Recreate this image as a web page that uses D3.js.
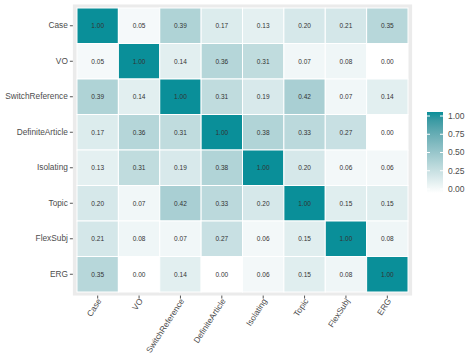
<!DOCTYPE html>
<meta charset="utf-8">
<script src="https://d3js.org/d3.v7.min.js"></script>
<style>
  body { margin: 0; background: #fff; }
  text { font-family: "Liberation Sans", Arial, sans-serif; }
</style>
<div id="heatmap_area"></div>
<script>

    // feature names (same order on both axes)
    let features = ["Case", "VO", "SwitchReference", "DefiniteArticle", "Isolating", "Topic", "FlexSubj", "ERG"];

    // correlation rows, one per feature
    let caseRow      = [1.00, 0.05, 0.39, 0.17, 0.13, 0.20, 0.21, 0.35];
    let voRow        = [0.05, 1.00, 0.14, 0.36, 0.31, 0.07, 0.08, 0.00];
    let switchRow    = [0.39, 0.14, 1.00, 0.31, 0.19, 0.42, 0.07, 0.14];
    let definiteRow  = [0.17, 0.36, 0.31, 1.00, 0.38, 0.33, 0.27, 0.00];
    let isolatingRow = [0.13, 0.31, 0.19, 0.38, 1.00, 0.20, 0.06, 0.06];
    let topicRow     = [0.20, 0.07, 0.42, 0.33, 0.20, 1.00, 0.15, 0.15];
    let flexRow      = [0.21, 0.08, 0.07, 0.27, 0.06, 0.15, 1.00, 0.08];
    let ergRow       = [0.35, 0.00, 0.14, 0.00, 0.06, 0.15, 0.08, 1.00];

    let legendTicks = [0, 0.25, 0.5, 0.75, 1];

    let rows = [caseRow, voRow, switchRow, definiteRow, isolatingRow, topicRow, flexRow, ergRow];

    // flatten into cells
    let cells = [];
    rows.forEach((r, i) => r.forEach((v, j) => cells.push({row: features[i], col: features[j], value: v})));

    let width = 474, height = 364;

    let svg = d3.select("#heatmap_area")
                .append("svg")
                    .attr("width", width)
                    .attr("height", height);

    svg.append("rect").attr("width", width).attr("height", height).attr("fill", "white");

    let x = d3.scaleBand().domain(features).range([77, 408]);
    let y = d3.scaleBand().domain(features).range([8, 292]);

    let color = d3.scaleLinear()
                  .domain([0, 1])
                  .range(["#ffffff", "#0a8f99"])
                  .interpolate(d3.interpolateLab);

    // grey panel, a little wider than the tiles (ggplot expand)
    let ex = x.bandwidth() * 0.1, ey = y.bandwidth() * 0.1;
    svg.append("rect")
        .attr("x", x.range()[0] - ex)
        .attr("y", y.range()[0] - ey)
        .attr("width", x.range()[1] - x.range()[0] + 2 * ex)
        .attr("height", y.range()[1] - y.range()[0] + 2 * ey)
        .attr("fill", "#ebebeb");

    // tiles
    svg.selectAll("rect.tile")
        .data(cells)
        .enter()
        .append("rect")
            .attr("class", "tile")
            .attr("x", d => x(d.col))
            .attr("y", d => y(d.row))
            .attr("width", x.bandwidth())
            .attr("height", y.bandwidth())
            .attr("fill", d => color(d.value))
            .attr("stroke", "white")
            .style("stroke-width", "1px");

    // numbers on the tiles
    svg.selectAll("text.val")
        .data(cells)
        .enter()
        .append("text")
            .attr("class", "val")
            .attr("x", d => x(d.col) + x.bandwidth() / 2)
            .attr("y", d => y(d.row) + y.bandwidth() / 2)
            .attr("dy", "0.35em")
            .attr("text-anchor", "middle")
            .style("font-size", "6.5px")
            .attr("fill", "#333")
            .text(d => d.value.toFixed(2));

    // y axis
    let yAxis = svg.append("g")
        .attr("transform", "translate(" + (x.range()[0] - ex) + ",0)")
        .call(d3.axisLeft(y).tickSize(3).tickPadding(2));
    yAxis.select(".domain").remove();
    yAxis.selectAll("line").attr("stroke", "#555");
    yAxis.selectAll("text").style("font-size", "8.3px").attr("fill", "#4d4d4d");

    // x axis with slanted labels
    let xAxis = svg.append("g")
        .attr("transform", "translate(0," + (y.range()[1] + ey) + ")")
        .call(d3.axisBottom(x).tickSize(3).tickPadding(2));
    xAxis.select(".domain").remove();
    xAxis.selectAll("line").attr("stroke", "#555");
    xAxis.selectAll("text")
        .style("font-size", "8.3px")
        .attr("fill", "#4d4d4d")
        .attr("text-anchor", "end")
        .attr("dy", "0.3em")
        .attr("transform", "translate(2,4) rotate(-57)")
        .attr("y", 0)
        .attr("x", 0);

    // colour bar legend
    let lg = svg.append("g");
    let ly = d3.scaleLinear().domain([0, 1]).range([189, 116]);
    let defs = svg.append("defs");
    let grad = defs.append("linearGradient")
        .attr("id", "fillgrad")
        .attr("x1", "0").attr("y1", "1").attr("x2", "0").attr("y2", "0");
    d3.range(0, 1.01, 0.1).forEach(t => {
        grad.append("stop").attr("offset", t).attr("stop-color", color(t));
    });
    lg.append("rect")
        .attr("x", 427)
        .attr("y", ly(1) - 4)
        .attr("width", 16)
        .attr("height", ly(0) - ly(1) + 8)
        .attr("fill", "url(#fillgrad)");

    lg.selectAll("line.l")
        .data(legendTicks)
        .enter()
        .append("line")
            .attr("x1", 427).attr("x2", 430)
            .attr("y1", d => ly(d)).attr("y2", d => ly(d))
            .attr("stroke", "white");
    lg.selectAll("line.r")
        .data(legendTicks)
        .enter()
        .append("line")
            .attr("x1", 440).attr("x2", 443)
            .attr("y1", d => ly(d)).attr("y2", d => ly(d))
            .attr("stroke", "white");

    lg.selectAll("text")
        .data(legendTicks)
        .enter()
        .append("text")
            .attr("x", 448)
            .attr("y", d => ly(d))
            .attr("dy", "0.35em")
            .style("font-size", "8.5px")
            .attr("fill", "#4d4d4d")
            .text(d => d.toFixed(2));

</script>
